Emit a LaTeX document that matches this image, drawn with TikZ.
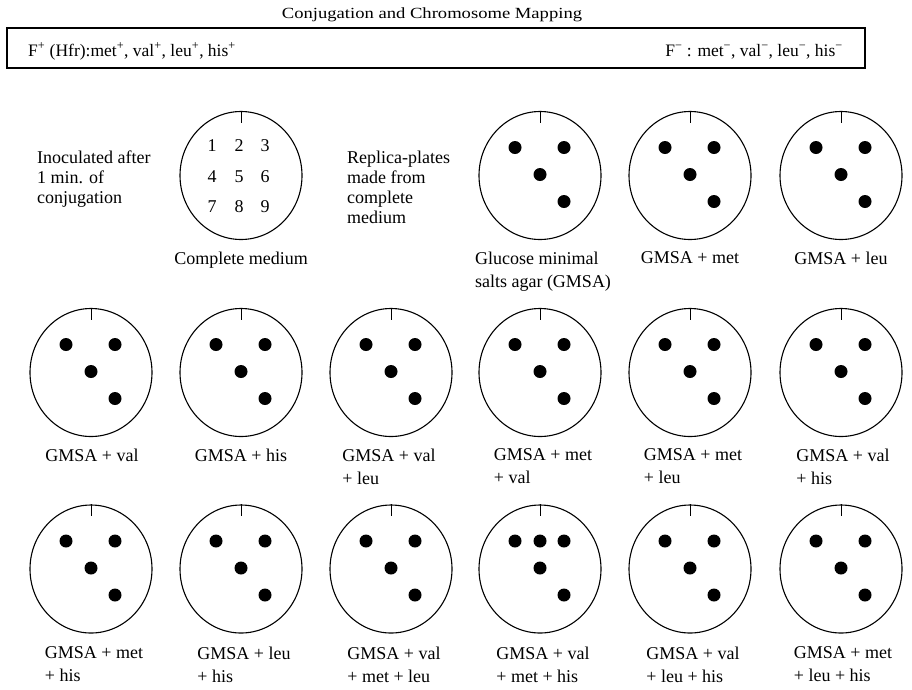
\documentclass[tikz,border=0pt]{standalone}
\usepackage{fontspec}
\setmainfont{Liberation Serif}
\usetikzlibrary{shapes.geometric}
\tikzset{
  dish/.style={draw, ellipse, line width=1.1pt, minimum width=122pt, minimum height=128pt, inner sep=0pt},
  ticmark/.style={line width=1pt},
  colony/.style={fill=black},
  lbl/.style={align=left, inner sep=0pt, anchor=north, font=\fontsize{18}{23}\selectfont},
  side/.style={align=left, inner sep=0pt, anchor=north west, font=\fontsize{18}{20}\selectfont},
  num/.style={inner sep=0pt, font=\fontsize{18}{20}\selectfont},
  hdr/.style={inner sep=0pt, font=\fontsize{17.5}{20}\selectfont},
}
\newcommand\petri[3]{%
  \node[dish] (#1) at (#2,#3) {};
  \draw[ticmark] (#1.north) -- ++(0,12);
}
\newcommand\colonies[1]{%
  \foreach \dx/\dy in {-25/-28,24/-28,0/-1,24/26}
    \fill[colony] ([shift={(\dx,\dy)}]#1) circle (6.5pt);
}
\begin{document}
\begin{tikzpicture}[x=1pt,y=-1pt]
\useasboundingbox (0,0) rectangle (912,689);
% title and header
\node[inner sep=0pt, anchor=base, font=\fontsize{15.5}{18}\selectfont] (title) at (432,18) {\scalebox{1.2}[1]{Conjugation and Chromosome Mapping}};
\node[draw, line width=1.1pt, minimum width=858pt, minimum height=40pt, inner sep=0pt] (hbox) at (436,48) {};
\node[hdr, anchor=base west] (donor) at (28,56) {F\textsuperscript{+} (Hfr):met\textsuperscript{+}, val\textsuperscript{+}, leu\textsuperscript{+}, his\textsuperscript{+}};
\node[hdr, anchor=base east] (recip) at (843,56) {F\textsuperscript{−} : met\textsuperscript{−}, val\textsuperscript{−}, leu\textsuperscript{−}, his\textsuperscript{−}};
% row 1
\node[side] (inoc) at (37,150.5) {Inoculated after\\1 min. of\\conjugation};
\petri{cm}{241}{175.5}
\node[num] (n1) at (212,146) {1};
\node[num] (n2) at (239,146) {2};
\node[num] (n3) at (265,146) {3};
\node[num] (n4) at (212,177) {4};
\node[num] (n5) at (239,177) {5};
\node[num] (n6) at (265,177) {6};
\node[num] (n7) at (212,207) {7};
\node[num] (n8) at (239,207) {8};
\node[num] (n9) at (265,207) {9};
\node[lbl] (lcm) at (241,251.5) {Complete medium};
\node[side] (repl) at (347,150.5) {Replica-plates\\made from\\complete\\medium};
\petri{a1}{540}{175.5}\colonies{a1}
\petri{a2}{690}{175.5}\colonies{a2}
\petri{a3}{841}{175.5}\colonies{a3}
\node[lbl] (la1) at (543,251.5) {Glucose minimal\\salts agar (GMSA)};
\node[lbl] (la2) at (690,251.5) {GMSA + met};
\node[lbl] (la3) at (841,251.5) {GMSA + leu};
% row 2
\petri{b1}{91}{372.5}\colonies{b1}
\petri{b2}{241}{372.5}\colonies{b2}
\petri{b3}{391}{372.5}\colonies{b3}
\petri{b4}{540}{372.5}\colonies{b4}
\petri{b5}{690}{372.5}\colonies{b5}
\petri{b6}{841}{372.5}\colonies{b6}
\node[lbl] (lb1) at (92,448.5) {GMSA + val};
\node[lbl] (lb2) at (241,448.5) {GMSA + his};
\node[lbl] (lb3) at (389,448.5) {GMSA + val\\+ leu};
\node[lbl] (lb4) at (543,448.5) {GMSA + met\\+ val};
\node[lbl] (lb5) at (693,448.5) {GMSA + met\\+ leu};
\node[lbl] (lb6) at (843,448.5) {GMSA + val\\+ his};
% row 3
\petri{c1}{91}{569}\colonies{c1}
\petri{c2}{241}{569}\colonies{c2}
\petri{c3}{391}{569}\colonies{c3}
\petri{c4}{540}{569}\colonies{c4}
\fill[colony] ([shift={(0,-28)}]c4) circle (6.5pt);
\petri{c5}{690}{569}\colonies{c5}
\petri{c6}{841}{569}\colonies{c6}
\node[lbl] (lc1) at (94,646.5) {GMSA + met\\+ his};
\node[lbl] (lc2) at (244,646.5) {GMSA + leu\\+ his};
\node[lbl] (lc3) at (394,646.5) {GMSA + val\\+ met + leu};
\node[lbl] (lc4) at (543,646.5) {GMSA + val\\+ met + his};
\node[lbl] (lc5) at (693,646.5) {GMSA + val\\+ leu + his};
\node[lbl] (lc6) at (843,646.5) {GMSA + met\\+ leu + his};
\end{tikzpicture}
\end{document}
